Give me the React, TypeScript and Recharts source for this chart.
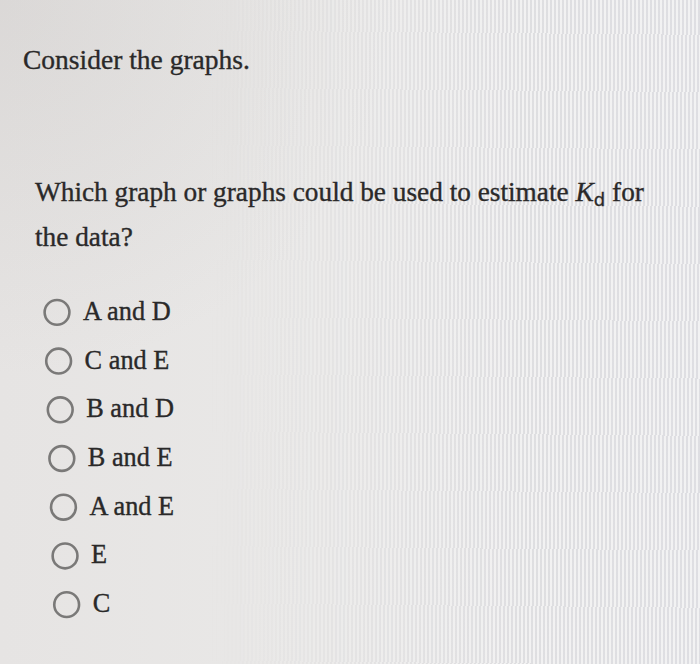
import React from 'react';
import { ScatterChart, Scatter, XAxis, YAxis, Customized } from 'recharts';

// quiz text
const TITLE = 'Consider the graphs.';
const QUESTION_START = 'Which graph or graphs could be used to estimate ';
const CONSTANT = 'K';
const CONSTANT_SUB = 'd';
const QUESTION_END = ' for';
const QUESTION_LINE2 = 'the data?';
const OPTIONS = ['A and D', 'C and E', 'B and D', 'B and E', 'A and E', 'E', 'C'];

const optionData = OPTIONS.map((label, row) => ({ slot: 0, row, label }));

const INK = '#2a2929';
const FONT = '"Liberation Serif", "DejaVu Serif", serif';

const RadioOption = (props: any) => {
    const { cx, cy, payload } = props;
    // the photo was taken at a slight angle, so lower rows drift right
    const dx = (cy - 312) * 0.033;
    return (
        <g>
            <circle cx={cx + dx} cy={cy} r={12.4} fill="none" stroke="#7a7978" strokeWidth={2.6} />
            <text x={cx + dx + 26} y={cy + 7.5} fontFamily={FONT} fontSize={26.3} fill={INK}
                stroke={INK} strokeWidth={0.35}>
                {payload.label}
            </text>
        </g>
    );
};

const Heading = () => (
    <g fontFamily={FONT} fill={INK} stroke={INK} strokeWidth={0.35}>
        <text x={23} y={69} fontSize={27.5}>{TITLE}</text>
        <text x={35} y={201} fontSize={27.3}>
            {QUESTION_START}
            <tspan fontStyle="italic" fontSize={27.5}>{CONSTANT}</tspan>
            <tspan fontSize={18} dy={5} fontFamily='"DejaVu Sans", sans-serif'>{CONSTANT_SUB}</tspan>
            <tspan dy={-5}>{QUESTION_END}</tspan>
        </text>
        <text x={35} y={246} fontSize={27.3}>{QUESTION_LINE2}</text>
    </g>
);

const App: React.FC = () => {
    return (
        <div style={{ position: 'absolute', left: 0, top: 0, width: 700, height: 664, overflow: 'hidden',
            background: 'radial-gradient(ellipse at 0% 0%, rgba(185,181,179,0.25), rgba(185,181,179,0) 40%), linear-gradient(90deg, #e6e4e3 0%, #e9e8e7 45%, #e9e9eb 100%)' }}>
            <div style={{ position: 'absolute', inset: 0,
                background: 'repeating-linear-gradient(91deg, rgba(255,255,255,0.4) 0px, rgba(255,255,255,0.4) 2px, rgba(200,200,207,0.3) 2px, rgba(200,200,207,0.3) 4px)',
                WebkitMaskImage: 'linear-gradient(to right, transparent 30%, black 75%)',
                maskImage: 'linear-gradient(to right, transparent 30%, black 75%)' }} />
            <div style={{ position: 'absolute', left: 0, top: 0 }}>
                <ScatterChart width={700} height={664} margin={{ top: 288, right: 300, bottom: 35, left: 57 }}>
                    <XAxis type="number" dataKey="slot" domain={[0, 1]} hide />
                    <YAxis type="number" dataKey="row" domain={[-0.5, 6.5]} reversed hide />
                    <Scatter data={optionData} shape={RadioOption} isAnimationActive={false} />
                    <Customized component={Heading} />
                </ScatterChart>
            </div>
        </div>
    );
};

export default App;
